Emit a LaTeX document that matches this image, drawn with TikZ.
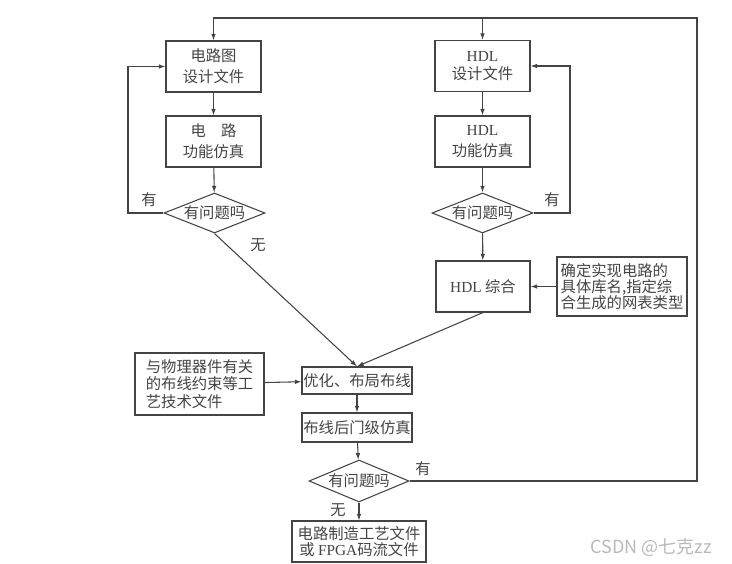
\documentclass[tikz,border=0pt]{standalone}
\usepackage{fontspec}
\setmainfont{Liberation Serif}
\newfontfamily\cjk{Noto Sans CJK SC}
\usetikzlibrary{shapes.geometric, arrows.meta}
\definecolor{ink}{HTML}{444444}
\newcommand{\lat}[1]{{\rmfamily #1}}

\begin{document}
\begin{tikzpicture}[x=0.75pt, y=-0.75pt, >={Latex[length=5pt,width=3.5pt]},
  every node/.style={font={\cjk\fontsize{11.5}{16}\selectfont}, text=ink},
  box/.style={draw=ink, line width=0.8pt, rectangle, align=center, inner sep=0pt},
  note/.style={box, align=left, font={\cjk\fontsize{11.5}{13}\selectfont}},
  ask/.style={draw=ink, line width=0.8pt, diamond, aspect=2.5, inner sep=0pt,
    minimum width=75.75pt, minimum height=30pt},
  flow/.style={draw=ink, line width=0.8pt, ->}]
  \useasboundingbox (0,0) rectangle (732,564);

  % schematic branch
  \node[box, minimum width=71.25pt, minimum height=38.25pt] (sch) at (213.5,66.5) {电路图\\设计文件};
  \node[box, minimum width=71.25pt, minimum height=38.25pt] (schsim) at (213.5,141.5) {电\hspace{1em}路\\功能仿真};
  \node[ask] (q1) at (214.5,213) {有问题吗};
  \coordinate (q1loop) at (128,213);

  % HDL branch
  \node[box, minimum width=71.25pt, minimum height=38.25pt, font={\cjk\fontsize{11.5}{13}\selectfont}] (hdl) at (482.5,66) {\lat{HDL}\\设计文件};
  \node[box, minimum width=71.25pt, minimum height=38.25pt] (hdlsim) at (482.5,141.5) {\lat{HDL}\\功能仿真};
  \node[ask] (q2) at (482.5,213) {有问题吗};
  \coordinate (q2loop) at (570,213);
  \node[box, minimum width=70.5pt, minimum height=38.25pt] (syn) at (483,286.5) {\lat{HDL} 综合};
  \node[note, minimum width=97.5pt, minimum height=44.25pt, font={\cjk\fontsize{11.5}{12}\selectfont}] (lib) at (622,286.5) {确定实现电路的\\具体库名,指定综\\合生成的网表类型};

  % layout and gate level
  \node[note, minimum width=96.75pt, minimum height=46.5pt] (cons) at (199.5,384) {与物理器件有关\\的布线约束等工\\艺技术文件};
  \node[box, minimum width=82.5pt, minimum height=20.25pt] (par) at (357,380.5) {优化、布局布线};
  \node[box, minimum width=82.5pt, minimum height=21.75pt] (gsim) at (357,427.5) {布线后门级仿真};
  \node[ask, minimum width=75pt, minimum height=31.5pt] (q3) at (359,481) {有问题吗};
  \node[box, minimum width=100.5pt, minimum height=30.75pt, font={\cjk\fontsize{11.5}{12.5}\selectfont}] (out) at (359,541.5) {电路制造工艺文件\\或 \lat{FPGA}码流文件};
  \coordinate (back) at (697,18);

  % connectors
  \draw[flow] (sch) -- (schsim);
  \draw[flow] (schsim) -- (q1);
  \draw[flow] (q1.west) -- (q1loop) |- (sch.west);
  \node (yes1) at (149,200) {有};
  \draw[flow] (q1.south) -- (par.north);
  \node (no1) at (258,245) {无};

  \draw[flow] (hdl) -- (hdlsim);
  \draw[flow] (hdlsim) -- (q2);
  \draw[flow] (q2.east) -- (q2loop) |- (hdl.east);
  \node (yes2) at (552,200) {有};
  \draw[flow] (q2) -- (syn);
  \draw[flow] (lib) -- (syn);
  \draw[flow] (syn.south) -- (par.north);

  \draw[flow] (cons) -- (par);
  \draw[flow] (par) -- (gsim);
  \draw[flow] (gsim) -- (q3);
  \draw[flow] (q3) -- (out);
  \node (no3) at (338,510) {无};
  \draw[flow] (q3.east) -| (back) -| (sch.north);
  \node (yes3) at (423,469) {有};
  \draw[flow] (hdl.north |- back) -- (hdl.north);

  \node[font={\cjk\fontsize{13.5}{15}\selectfont}, text=gray!55] (mark) at (651,547) {CSDN @七克zz};
\end{tikzpicture}
\end{document}
